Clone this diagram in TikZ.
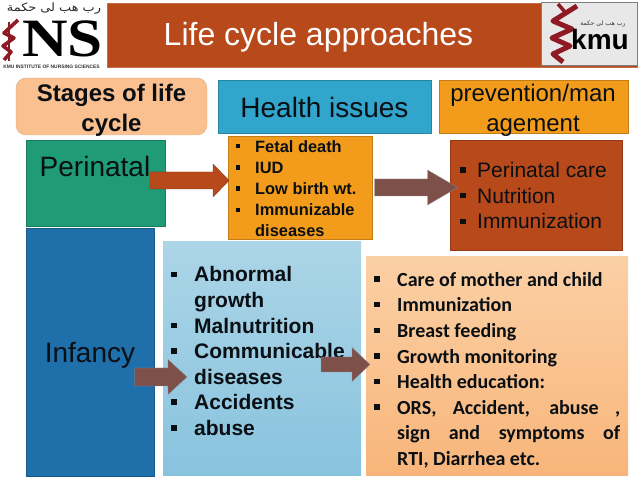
\documentclass[tikz,border=0pt]{standalone}
\usepackage{fontspec}
\setmainfont{Liberation Sans}
\newfontfamily\carlitofont{Carlito}
\newfontfamily\serifont{Liberation Serif}
\newfontfamily\arabicfont[Script=Arabic]{DejaVu Sans}
\TeXXeTstate=1
\definecolor{rust}{HTML}{B8491A}
\definecolor{amber}{HTML}{F39C1B}
\definecolor{peach}{HTML}{FAC090}
\definecolor{sky}{HTML}{31A5CC}
\definecolor{teal}{HTML}{1F9B75}
\definecolor{deepblue}{HTML}{1F6FAB}
\definecolor{arrowbrown}{HTML}{7E504A}
\definecolor{staffred}{HTML}{8E1B24}
\definecolor{inktext}{HTML}{0A0F14}
\newcommand{\fs}[2]{\fontsize{#1}{#2}\selectfont}
\newcommand{\blt}[1]{\makebox[#1][l]{\raisebox{.22em}{\rule{.27em}{.27em}}}}
% style, x start, x head base, x tip, y centre, shaft half height, head half height
\newcommand{\blockarrow}[7]{\draw[#1] (#2,#5-#6) -- (#3,#5-#6) -- (#3,#5-#7) -- (#4,#5) -- (#3,#5+#7) -- (#3,#5+#6) -- (#2,#5+#6) -- cycle;}
\tikzset{
  x=1pt,y=-1pt,
  panel/.style={draw=#1!80!black,line width=.6pt,fill=#1,inner sep=0pt},
  label/.style={text=inktext,inner sep=0pt,align=center},
  listtext/.style={text=inktext,inner sep=0pt,align=left,anchor=north west},
  rustarrow/.style={fill=rust,draw=rust!70!black,line width=.3pt},
  brownarrow/.style={fill=arrowbrown,draw=black!45,line width=.3pt},
}
\begin{document}
\begin{tikzpicture}
\useasboundingbox (0,0) rectangle (638,478);
\fill[white] (0,0) rectangle (638,478);

% title bar
\draw[draw=rust!80!white,fill=rust,line width=.6pt] (107,3.5) rectangle (637,67);
\node[text=white,inner sep=0pt,font=\fs{32}{36}] (title) at (318.5,37) {Life cycle approaches};

% NS logo
\node[inner sep=0pt,text=black!85,font=\arabicfont\fs{11.5}{12},xscale=1.12] (nsarabic) at (54,9) {\beginR رب هب لی حکمة\endR};
\node[inner sep=0pt,text=black,font=\serifont\bfseries\fs{54}{55},xscale=1.17] (nsmark) at (62.5,39) {NS};
\node[inner sep=0pt,text=black!80,font=\bfseries\fs{4.9}{5}] (nssub) at (51.5,66.5) {KMU INSTITUTE OF NURSING SCIENCES};
\draw[staffred,line width=3.6pt,line join=round] (18,20) -- (4,33) -- (14,38) -- (3,46) -- (11,52) -- (4,60);
\draw[staffred,line width=2.4pt] (9,22) -- (9,61);

% kmu logo
\draw[draw=black!50,fill=black!9,line width=.8pt] (541,2.5) rectangle (637,65);
\draw[staffred,line width=5pt,line join=round] (577,6) -- (553,21) -- (572,29) -- (552,38) -- (570,46) -- (553,54) -- (563,62);
\draw[staffred,line width=3.5pt] (558,4) -- (565,12);
\node[inner sep=0pt,text=black,font=\bfseries\fs{28}{29}] (kmumark) at (600,39) {kmu};
\node[inner sep=0pt,text=black!80,font=\arabicfont\fs{6.2}{7}] (kmuarabic) at (603,24) {\beginR رب هب لی حکمة\endR};

% headers
\node[draw=peach!90!black,fill=peach,rounded corners=10pt,minimum width=191pt,minimum height=57pt,inner sep=0pt] (stagesbox) at (111.5,106.5) {};
\node[label,font=\bfseries\fs{24}{30}] (stages) at (111.5,110) {Stages of life\\cycle};
\node[panel=sky,minimum width=213pt,minimum height=53pt] (health) at (324.5,106.5) {};
\node[label,font=\fs{28}{30}] (healthtxt) at (324.5,107.5) {Health issues};
\node[panel=amber,minimum width=189pt,minimum height=53pt] (prev) at (533.5,106.5) {};
\node[label,font=\fs{24}{30}] (prevtxt) at (533,110.5) {prevention/man\\agement};

% perinatal row
\node[panel=teal,minimum width=139pt,minimum height=86pt] (perinatal) at (95.5,183) {};
\node[label,font=\fs{28}{30}] (perinataltxt) at (95,166.5) {Perinatal};
\node[panel=amber,minimum width=144pt,minimum height=103pt] (fetal) at (300,187.5) {};
\node[listtext,font=\bfseries\fs{16.4}{21.2}] (fetaltxt) at (235.5,140) {\blt{19.5pt}Fetal death\\\blt{19.5pt}IUD\\\blt{19.5pt}Low birth wt.\\\blt{19.5pt}Immunizable\\\hspace*{19.5pt}diseases};
\node[panel=rust,minimum width=172pt,minimum height=110pt] (care) at (536,195) {};
\node[listtext,font=\fs{21}{25.7},text=inktext] (caretxt) at (460,162) {\blt{17pt}Perinatal care\\\blt{17pt}Nutrition\\\blt{17pt}Immunization};

% infancy row
\node[panel=deepblue,minimum width=128pt,minimum height=248pt] (infancy) at (90,352) {};
\node[label,font=\fs{28}{30}] (infancytxt) at (90,355) {Infancy};
\path[top color={rgb,255:red,172;green,213;blue,231},bottom color={rgb,255:red,136;green,195;blue,222}] (163,242) rectangle (361,476);
\node[inner sep=0pt,minimum width=198pt,minimum height=234pt] (issues) at (262,359) {};
\node[listtext,font=\bfseries\fs{21}{25.55}] (issuestxt) at (171,266.5) {\blt{23pt}Abnormal\\\hspace*{23pt}growth\\\blt{23pt}Malnutrition\\\blt{23pt}Communicable\\\hspace*{23pt}diseases\\\blt{23pt}Accidents\\\blt{23pt}abuse};
\path[top color={rgb,255:red,251;green,208;blue,165},bottom color={rgb,255:red,248;green,181;blue,122}] (366,257) rectangle (628,476);
\node[inner sep=0pt,minimum width=262pt,minimum height=219pt] (measures) at (497,366.5) {};
\node[listtext,font=\carlitofont\bfseries\fs{20}{25.6}] (measurestxt) at (374,272) {\blt{23pt}Care of mother and child\\\blt{23pt}Immunization\\\blt{23pt}Breast feeding\\\blt{23pt}Growth monitoring\\\blt{23pt}Health education:\\\blt{23pt}\makebox[223pt][s]{ORS, Accident, abuse ,}\\\hspace*{23pt}\makebox[223pt][s]{sign and symptoms of}\\\hspace*{23pt}RTI, Diarrhea etc.};

% block arrows
\blockarrow{rustarrow}{150}{213}{229}{180.5}{8.5}{16.5}
\blockarrow{brownarrow}{374.5}{427.5}{457.5}{187.5}{8.5}{17.5}
\blockarrow{brownarrow}{134.5}{168}{187}{377}{9}{17.5}
\blockarrow{brownarrow}{321}{352}{370}{364.5}{7.5}{17}
\end{tikzpicture}
\end{document}
